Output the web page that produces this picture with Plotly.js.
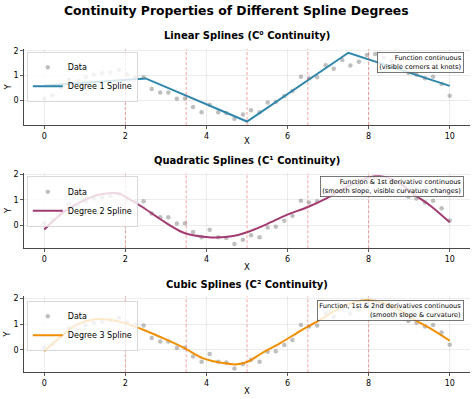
<!DOCTYPE html>
<html>
<head>
<meta charset="utf-8">
<script src="https://cdn.plot.ly/plotly-3.0.1.min.js"></script>
<style>
  html, body { margin: 0; padding: 0; background: #ffffff; }
  #chart { width: 474px; height: 399px; }
</style>
</head>
<body>
<div id="chart"></div>
<script>
// Noisy samples shared by all three panels
const dataX = [0.00, 0.20, 0.41, 0.61, 0.82, 1.02, 1.22, 1.43, 1.63, 1.84,
               2.04, 2.24, 2.45, 2.65, 2.86, 3.06, 3.27, 3.47, 3.67, 3.88,
               4.08, 4.29, 4.49, 4.69, 4.90, 5.10, 5.31, 5.51, 5.71, 5.92,
               6.12, 6.33, 6.53, 6.73, 6.94, 7.14, 7.35, 7.55, 7.76, 7.96,
               8.16, 8.37, 8.57, 8.78, 8.98, 9.18, 9.39, 9.59, 9.80, 10.00];
const dataY = [0.08, 0.21, 0.53, 0.85, 0.79, 0.95, 1.05, 1.10, 1.15, 1.24,
               1.05, 0.95, 0.94, 0.46, 0.32, 0.32, 0.07, 0.08, -0.26, -0.47,
               -0.17, -0.47, -0.50, -0.73, -0.56, -0.39, -0.47, -0.08, -0.06, 0.18,
               0.38, 0.96, 0.90, 0.94, 1.42, 1.28, 1.63, 1.41, 1.56, 1.83,
               1.87, 1.73, 1.60, 1.40, 1.12, 1.05, 0.90, 0.96, 0.67, 0.19];

// Knot positions (dashed markers)
const knots = [2, 3.5, 5, 6.5, 8];

// Degree 1 spline: piecewise linear vertices
const linX = [0, 2.5, 5, 7.5, 10];
const linY = [0.61, 0.89, -0.84, 1.92, 0.59];

// Degree 2 spline samples
const quadX = [0, 0.5, 1.0, 1.4, 1.84, 2.0, 2.4, 2.77, 3.1, 3.47, 4.0, 4.25, 4.66, 5.0,
               5.48, 5.98, 6.5, 6.96, 7.45, 8.0, 8.4, 8.8, 9.14, 9.5, 10.0];
const quadY = [-0.16, 0.55, 1.0, 1.22, 1.25, 1.12, 0.74, 0.34, 0.0, -0.31, -0.46, -0.48, -0.42, -0.27,
               0.04, 0.41, 0.72, 1.06, 1.5, 1.88, 1.9, 1.62, 1.19, 0.8, 0.12];

// Degree 3 spline samples
const cubX = [0, 0.4, 0.8, 1.2, 1.6, 2.0, 2.5, 3.0, 3.47, 3.92, 4.33, 4.75, 5.0, 5.4,
              5.81, 6.22, 6.5, 6.8, 7.2, 7.5, 7.9, 8.3, 8.7, 9.0, 9.5, 10.0];
const cubY = [-0.06, 0.5, 0.98, 1.18, 1.17, 1.03, 0.74, 0.4, 0.05, -0.34, -0.5, -0.57, -0.48, -0.1,
              0.25, 0.64, 0.9, 1.16, 1.55, 1.78, 1.92, 1.85, 1.6, 1.28, 0.85, 0.35];

const panelTitles = ['Linear Splines (C\u2070 Continuity)',
                     'Quadratic Splines (C\u00b9 Continuity)',
                     'Cubic Splines (C\u00b2 Continuity)'];
const splineNames = ['Degree 1 Spline', 'Degree 2 Spline', 'Degree 3 Spline'];
const notes = ['Function continuous<br>(visible corners at knots)',
               'Function & 1st derivative continuous<br>(smooth slope, visible curvature changes)',
               'Function, 1st & 2nd derivatives continuous<br>(smooth slope & curvature)'];
const splineColors = ['#2E86AB', '#A23B72', '#F18F01'];
const curvesX = [linX, quadX, cubX];
const curvesY = [linY, quadY, cubY];
const curveShapes = ['linear', 'spline', 'spline'];
const yRanges = [[-0.98, 2.07], [-0.9, 2.06], [-0.88, 2.08]];

// Panel geometry (paper coordinates)
const W = 446, H = 399, L = 24;
const domains = [[1 - 125 / H, 1 - 49 / H], [1 - 248.3 / H, 1 - 172.8 / H], [1 - 372.3 / H, 1 - 296.3 / H]];
const titleY = [1 - 35 / H, 1 - 160 / H, 1 - 284 / H];
const xLabelY = [1 - 141 / H, 1 - 266.5 / H, 1 - 391 / H];
const legendTop = [1 - 52 / H, 1 - 176.5 / H, 1 - 301 / H];
const noteTop = [1 - 52 / H, 1 - 176 / H, 1 - 300 / H];

const font = 'DejaVu Sans, Arial, sans-serif';
const traces = [];
const layout = {
  width: 474, height: 399,
  margin: { l: L, r: 474 - L - W, t: 0, b: 0 },
  paper_bgcolor: '#ffffff', plot_bgcolor: '#ffffff',
  font: { family: font, color: '#000000' },
  showlegend: true,
  annotations: [], shapes: []
};

layout.annotations.push({
  text: '<b>Continuity Properties of Different Spline Degrees</b>',
  xref: 'paper', yref: 'paper', x: 0.476, y: 1 - 10 / H,
  xanchor: 'center', yanchor: 'middle', showarrow: false,
  font: { size: 12.4, family: font, color: '#000' }
});

for (let i = 0; i < 3; i++) {
  const sfx = i === 0 ? '' : String(i + 1);
  const legendName = i === 0 ? 'legend' : 'legend' + (i + 1);
  traces.push({
    x: dataX, y: dataY, type: 'scatter', mode: 'markers', name: 'Data',
    xaxis: 'x' + sfx, yaxis: 'y' + sfx, legend: legendName,
    marker: { color: 'rgba(128,128,128,0.5)', size: 4.5 },
    hoverinfo: 'skip'
  });
  traces.push({
    x: curvesX[i], y: curvesY[i], type: 'scatter', mode: 'lines', name: splineNames[i],
    xaxis: 'x' + sfx, yaxis: 'y' + sfx, legend: legendName,
    line: { color: splineColors[i], width: 2, shape: curveShapes[i], smoothing: 1 }
  });

  layout['xaxis' + sfx] = {
    domain: [0, 1], anchor: 'y' + sfx, range: [-0.5, 10.5],
    tickvals: [0, 2, 4, 6, 8, 10], ticks: 'outside', ticklen: 3, tickwidth: 0.8, tickcolor: '#333',
    showline: true, linecolor: '#333', linewidth: 0.9, mirror: false,
    showgrid: true, gridcolor: 'rgba(176,176,176,0.3)', gridwidth: 0.8, zeroline: false,
    tickfont: { size: 8, family: font, color: '#000' }
  };
  layout['yaxis' + sfx] = {
    domain: domains[i], anchor: 'x' + sfx, range: yRanges[i],
    tickvals: [0, 1, 2], ticks: 'outside', ticklen: 3, tickwidth: 0.8, tickcolor: '#333',
    showline: true, linecolor: '#333', linewidth: 0.9, mirror: false,
    showgrid: true, gridcolor: 'rgba(176,176,176,0.3)', gridwidth: 0.8, zeroline: false,
    tickfont: { size: 8, family: font, color: '#000' }
  };

  layout[legendName] = {
    x: 3 / W, y: legendTop[i], xanchor: 'left', yanchor: 'top',
    bgcolor: 'rgba(255,255,255,0.8)', bordercolor: '#d0d0d0', borderwidth: 0.8,
    font: { size: 8, family: font, color: '#000' }, itemwidth: 30, tracegroupgap: 0
  };

  for (const k of knots) {
    layout.shapes.push({
      type: 'line', xref: 'x' + sfx, yref: 'y' + sfx + ' domain',
      x0: k, x1: k, y0: 0, y1: 1,
      line: { color: 'rgba(235,70,70,0.55)', width: 0.9, dash: '3px,2px' }
    });
  }

  layout.annotations.push({
    text: '<b>' + panelTitles[i] + '</b>',
    xref: 'paper', yref: 'paper', x: 0.5, y: titleY[i],
    xanchor: 'center', yanchor: 'middle', showarrow: false,
    font: { size: 10, family: font, color: '#000' }
  });
  layout.annotations.push({
    text: 'X', xref: 'paper', yref: 'paper', x: 0.5, y: xLabelY[i],
    xanchor: 'center', yanchor: 'middle', showarrow: false,
    font: { size: 8.5, family: font, color: '#000' }
  });
  layout.annotations.push({
    text: 'Y', xref: 'paper', yref: 'paper', x: (7.5 - L) / W, y: (domains[i][0] + domains[i][1]) / 2,
    xanchor: 'center', yanchor: 'middle', showarrow: false, textangle: -90,
    font: { size: 8.5, family: font, color: '#000' }
  });
  layout.annotations.push({
    text: notes[i], xref: 'paper', yref: 'paper', x: (464 - L) / W, y: noteTop[i],
    xanchor: 'right', yanchor: 'top', align: 'right', showarrow: false,
    bgcolor: 'rgba(255,255,255,0.8)', bordercolor: '#555', borderwidth: 0.8, borderpad: 1.5,
    font: { size: 6.6, family: font, color: '#000' }
  });
}

Plotly.newPlot('chart', traces, layout, { displayModeBar: false, staticPlot: true });
</script>
</body>
</html>
